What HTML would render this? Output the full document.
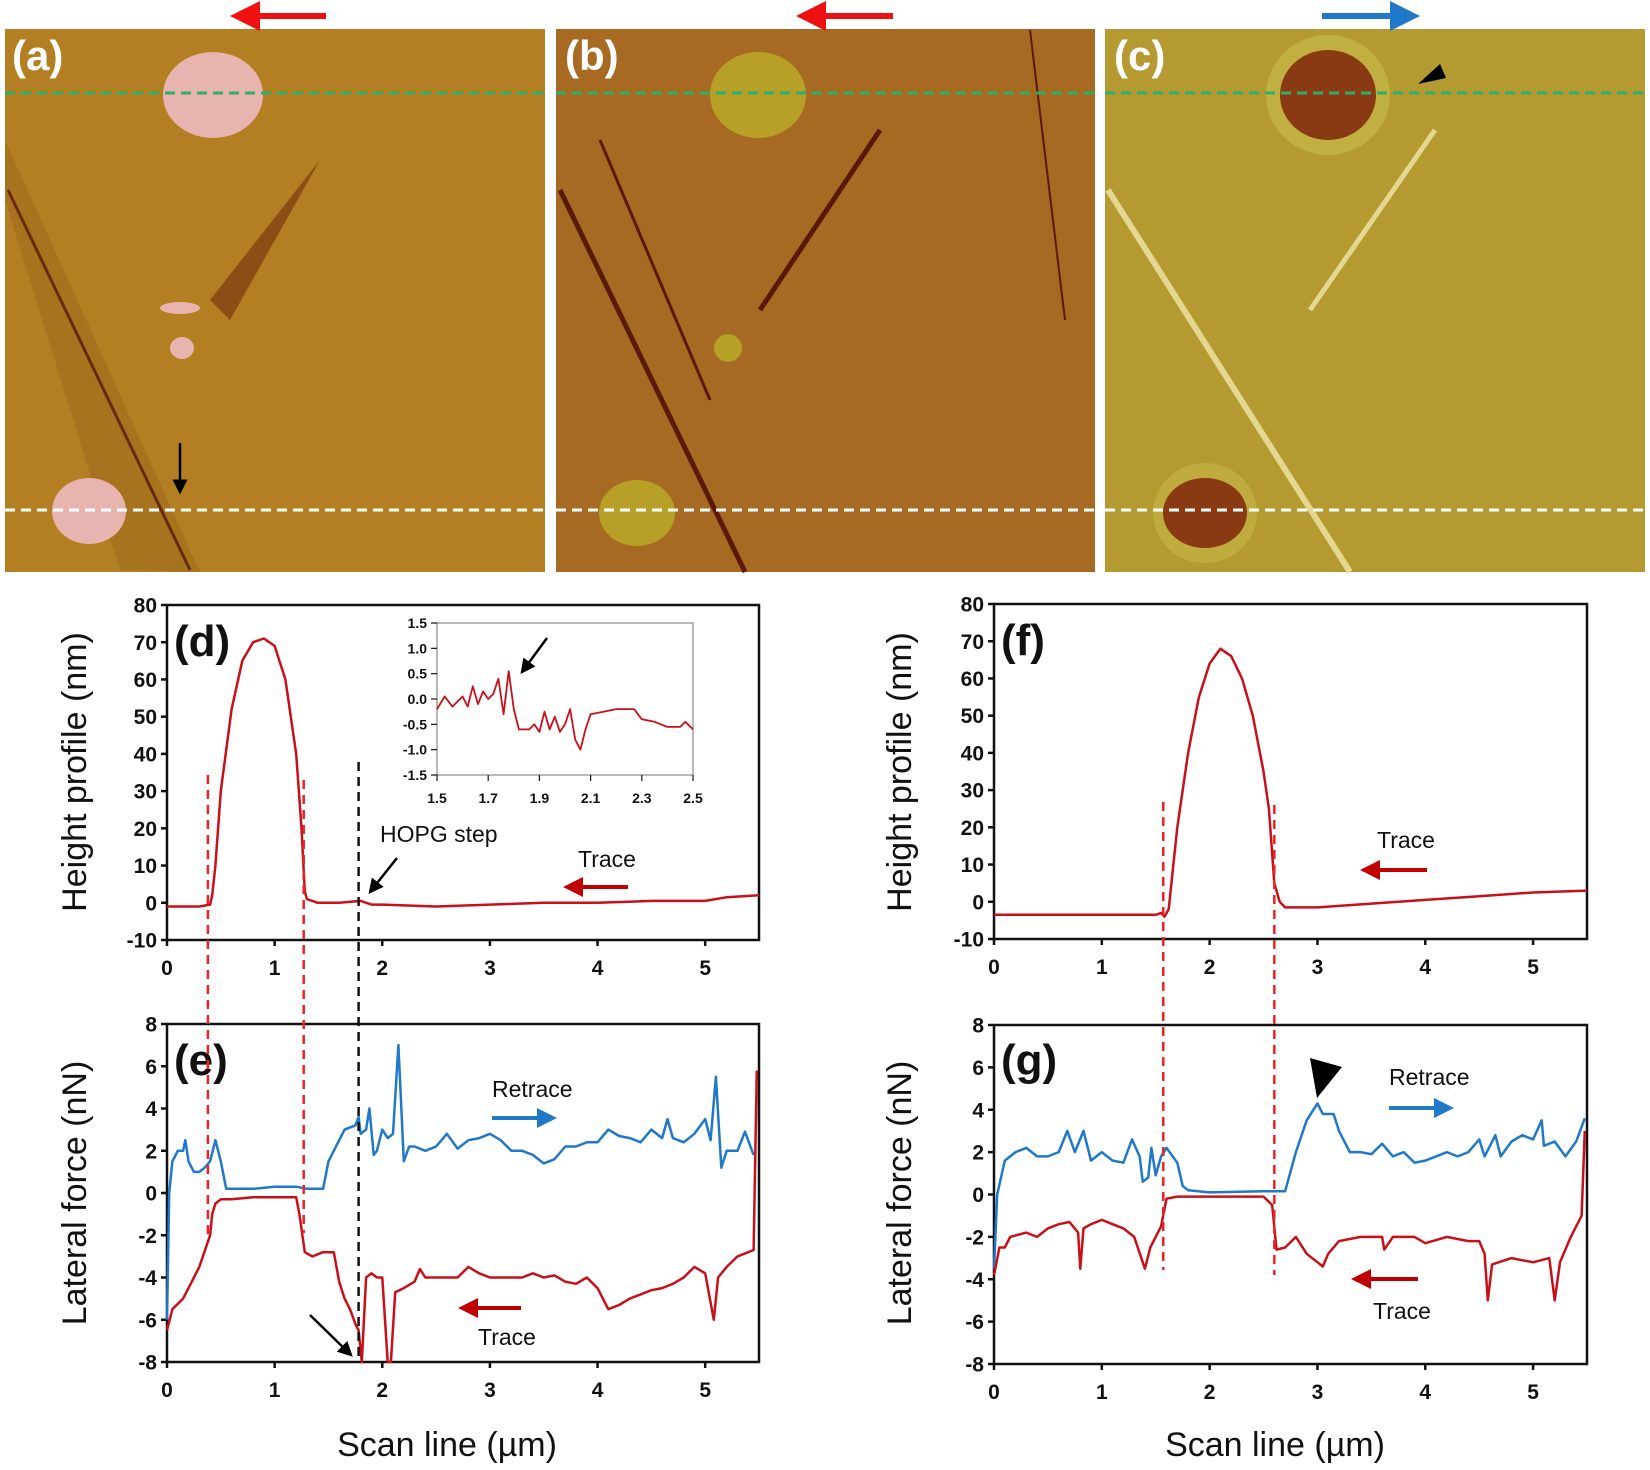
<!DOCTYPE html>
<html><head><meta charset="utf-8"><style>
body{margin:0;background:#fff;width:1650px;height:1470px;overflow:hidden}
svg{display:block}
text{font-family:"Liberation Sans",sans-serif}
.tk{font-size:21px;font-weight:bold;fill:#111}
.at{font-size:34px;fill:#111}
.pl{font-size:44px;font-weight:bold;fill:#111}
.an{font-size:23px;fill:#111}
</style></head><body>
<svg id="fig" width="1650" height="1470">
<defs>
<marker id="ahk" markerWidth="6" markerHeight="6" refX="5" refY="3" orient="auto"><path d="M0,0 L6,3 L0,6 z" fill="#000"/></marker>
<marker id="ahr" markerWidth="5" markerHeight="5" refX="4" refY="2.5" orient="auto"><path d="M0,0 L5,2.5 L0,5 z" fill="#c00000"/></marker>
<marker id="ahrr" markerWidth="5" markerHeight="5" refX="4" refY="2.5" orient="auto"><path d="M0,0 L5,2.5 L0,5 z" fill="#ee1111"/></marker>
<marker id="ahb" markerWidth="5" markerHeight="5" refX="4" refY="2.5" orient="auto"><path d="M0,0 L5,2.5 L0,5 z" fill="#1f78c8"/></marker>
</defs>
<!-- AFM images -->
<g>
<rect x="5" y="29" width="540" height="543" fill="#b37f22"/>
<polygon points="5,200 120,570 200,572 5,140" fill="#a06a1c" opacity="0.6"/>
<polygon points="210,300 320,160 230,320" fill="#7a3a10" opacity="0.7"/>
<line x1="8" y1="190" x2="190" y2="570" stroke="#6a2a0a" stroke-width="3"/>
<ellipse cx="213" cy="95" rx="50" ry="43" fill="#e8b4b0"/>
<ellipse cx="182" cy="348" rx="12" ry="11" fill="#e8b4b0"/>
<ellipse cx="180" cy="308" rx="20" ry="6" fill="#e8b4b0"/>
<ellipse cx="89" cy="511" rx="37" ry="33" fill="#e8b4b0"/>
<text x="12" y="70" style="font-size:42px;font-weight:bold;fill:#fff">(a)</text>
<line x1="180" y1="443" x2="180" y2="492" stroke="#000" stroke-width="2.5" marker-end="url(#ahk)"/>
</g>
<g>
<rect x="556" y="29" width="539" height="543" fill="#a66a22"/>
<line x1="560" y1="190" x2="745" y2="572" stroke="#5a1a05" stroke-width="5"/>
<line x1="600" y1="140" x2="710" y2="400" stroke="#5a1a05" stroke-width="3"/>
<line x1="760" y1="310" x2="880" y2="130" stroke="#5a1a05" stroke-width="5"/>
<line x1="1030" y1="30" x2="1065" y2="320" stroke="#5a1a05" stroke-width="2"/>
<ellipse cx="758" cy="95" rx="48" ry="43" fill="#b8a028"/>
<ellipse cx="728" cy="348" rx="14" ry="14" fill="#b8a028"/>
<ellipse cx="637" cy="513" rx="38" ry="33" fill="#b8a028"/>
<text x="565" y="70" style="font-size:42px;font-weight:bold;fill:#fff">(b)</text>
</g>
<g>
<rect x="1105" y="29" width="540" height="543" fill="#b49a30"/>
<line x1="1108" y1="190" x2="1350" y2="572" stroke="#e4d890" stroke-width="6"/>
<line x1="1310" y1="310" x2="1435" y2="130" stroke="#e4d890" stroke-width="5"/>
<ellipse cx="1328" cy="95" rx="62" ry="60" fill="#c8b848" opacity="0.7"/>
<ellipse cx="1328" cy="95" rx="48" ry="45" fill="#8a3a12"/>
<ellipse cx="1205" cy="513" rx="52" ry="50" fill="#c8b848" opacity="0.6"/>
<ellipse cx="1205" cy="513" rx="42" ry="35" fill="#8a3a12"/>
<text x="1114" y="70" style="font-size:42px;font-weight:bold;fill:#fff">(c)</text>
<polygon points="1418,84 1446,78 1440,64" fill="#000"/>
</g>
<line x1="5" y1="93" x2="545" y2="93" stroke="#2bb06a" stroke-width="3" stroke-dasharray="10,6"/>
<line x1="556" y1="93" x2="1095" y2="93" stroke="#2bb06a" stroke-width="3" stroke-dasharray="10,6"/>
<line x1="1105" y1="93" x2="1645" y2="93" stroke="#2bb06a" stroke-width="3" stroke-dasharray="10,6"/>
<line x1="5" y1="510" x2="545" y2="510" stroke="#fff" stroke-width="3" stroke-dasharray="10,6"/>
<line x1="556" y1="510" x2="1095" y2="510" stroke="#fff" stroke-width="3" stroke-dasharray="10,6"/>
<line x1="1105" y1="510" x2="1645" y2="510" stroke="#fff" stroke-width="3" stroke-dasharray="10,6"/>
<line x1="326" y1="16" x2="236" y2="16" stroke="#ee1111" stroke-width="6" marker-end="url(#ahrr)"/>
<line x1="893" y1="16" x2="802" y2="16" stroke="#ee1111" stroke-width="6" marker-end="url(#ahrr)"/>
<line x1="1322" y1="16" x2="1414" y2="16" stroke="#1f78c8" stroke-width="6" marker-end="url(#ahb)"/>
<g id="charts"></g>
</svg>
<script>
// ---- data ----
const dX=[0,0.1,0.2,0.3,0.4,0.42,0.45,0.5,0.6,0.7,0.8,0.9,1.0,1.1,1.2,1.25,1.28,1.3,1.4,1.6,1.8,1.9,2.0,2.5,3,3.5,4,4.5,5,5.2,5.5];
const dY=[-1,-1,-1,-1,-0.5,2,10,30,52,65,70,71,69,60,40,20,3,1,0,0,0.5,-0.5,-0.5,-1,-0.5,0,0,0.5,0.5,1.5,2];
const insetX=[1.5,1.53,1.56,1.6,1.62,1.64,1.66,1.68,1.7,1.72,1.74,1.76,1.78,1.8,1.82,1.84,1.86,1.88,1.9,1.92,1.94,1.96,1.98,2.0,2.02,2.04,2.06,2.08,2.1,2.15,2.2,2.25,2.27,2.3,2.35,2.4,2.45,2.47,2.5];
const insetY=[-0.2,0.05,-0.15,0.05,-0.15,0.25,-0.1,0.15,0.0,0.1,0.4,-0.3,0.55,-0.2,-0.6,-0.6,-0.6,-0.5,-0.65,-0.25,-0.6,-0.35,-0.65,-0.5,-0.2,-0.8,-1.0,-0.6,-0.3,-0.25,-0.2,-0.2,-0.2,-0.4,-0.45,-0.55,-0.55,-0.45,-0.6];
const eRetX=[0,0.02,0.05,0.1,0.15,0.17,0.2,0.25,0.3,0.35,0.4,0.45,0.5,0.55,0.6,0.8,1.0,1.2,1.3,1.45,1.5,1.55,1.65,1.75,1.78,1.8,1.85,1.88,1.92,1.95,2.0,2.05,2.1,2.15,2.2,2.25,2.3,2.4,2.5,2.6,2.7,2.8,2.9,3.0,3.1,3.2,3.3,3.4,3.5,3.6,3.7,3.8,3.9,4.0,4.1,4.2,4.3,4.4,4.5,4.6,4.65,4.7,4.8,4.9,5.0,5.05,5.1,5.15,5.2,5.3,5.37,5.45];
const eRetY=[-6,0,1.5,2,2,2.5,1.5,1,1,1.2,1.5,2.5,1.5,0.2,0.2,0.2,0.3,0.3,0.2,0.2,1.5,2,3,3.2,3.6,2.8,3,4,1.8,2,3,2.6,2.8,7,1.5,2.2,2.2,2,2.2,2.8,2.1,2.5,2.6,2.8,2.5,2,2,1.8,1.4,1.6,2.2,2.2,2.4,2.4,3,2.7,2.6,2.4,3,2.6,3.5,2.6,2.4,2.8,3.5,2.5,5.5,1.2,2,2,2.9,1.8];
const eTrX=[0,0.05,0.15,0.2,0.3,0.4,0.42,0.45,0.5,0.6,0.8,1.0,1.2,1.23,1.28,1.35,1.45,1.55,1.6,1.65,1.7,1.75,1.78,1.81,1.85,1.9,1.95,2.0,2.05,2.08,2.12,2.2,2.3,2.35,2.4,2.5,2.6,2.7,2.8,2.9,3.0,3.1,3.2,3.3,3.4,3.5,3.6,3.7,3.8,3.9,4.0,4.1,4.2,4.3,4.4,4.5,4.6,4.7,4.8,4.9,5.0,5.08,5.12,5.2,5.3,5.4,5.45,5.48];
const eTrY=[-6.5,-5.5,-5,-4.5,-3.5,-2,-1,-0.5,-0.3,-0.3,-0.2,-0.2,-0.2,-1,-2.8,-3,-2.8,-2.8,-4.2,-5,-5.5,-6.2,-6.5,-8,-4,-3.8,-4,-4,-8,-8,-4.7,-4.5,-4.2,-3.6,-4,-4,-4,-4,-3.5,-3.8,-4,-4,-4,-4,-3.8,-4,-3.9,-4.2,-4.3,-4,-4.5,-5.5,-5.3,-5,-4.8,-4.6,-4.5,-4.3,-4,-3.5,-3.8,-6,-4,-3.5,-3,-2.8,-2.7,5.8];
const fX=[0,0.5,1.0,1.5,1.55,1.58,1.62,1.7,1.8,1.9,2.0,2.1,2.2,2.3,2.4,2.5,2.55,2.6,2.65,2.7,3.0,3.5,4.0,4.5,5.0,5.5];
const fY=[-3.5,-3.5,-3.5,-3.5,-3,-4,-2,20,40,55,64,68,66,60,50,35,25,5,0,-1.5,-1.5,-0.5,0.5,1.5,2.5,3];
const gRetX=[0,0.03,0.1,0.2,0.3,0.4,0.5,0.6,0.68,0.75,0.83,0.9,1.0,1.1,1.2,1.28,1.35,1.38,1.43,1.46,1.5,1.55,1.6,1.7,1.75,1.8,2.0,2.5,2.7,2.8,2.9,3.0,3.05,3.15,3.2,3.3,3.4,3.5,3.6,3.7,3.8,3.9,4.0,4.1,4.2,4.3,4.4,4.5,4.55,4.65,4.7,4.8,4.9,5.0,5.08,5.1,5.2,5.3,5.4,5.48];
const gRetY=[-3.5,0,1.6,2,2.2,1.8,1.8,2,3,2,3,1.6,2,1.6,1.5,2.6,1.8,0.6,0.8,2.2,0.9,1.8,2.2,1.5,0.4,0.2,0.1,0.15,0.15,2,3.5,4.3,3.8,3.8,3,2,2,1.9,2.4,1.8,2,1.5,1.6,1.8,2,1.8,2,2.6,1.8,2.8,1.8,2.5,2.8,2.6,3.5,2.3,2.5,1.8,2.5,3.6];
const gTrX=[0,0.05,0.1,0.15,0.3,0.4,0.5,0.6,0.7,0.78,0.8,0.83,0.9,1.0,1.1,1.2,1.3,1.4,1.45,1.5,1.55,1.6,1.7,2.0,2.5,2.58,2.62,2.7,2.8,2.9,3.0,3.05,3.1,3.2,3.4,3.6,3.62,3.7,3.9,4.0,4.2,4.4,4.5,4.55,4.58,4.62,4.8,5.0,5.15,5.2,5.25,5.35,5.45,5.48];
const gTrY=[-3.8,-2.5,-2.5,-2,-1.8,-2,-1.6,-1.4,-1.3,-1.8,-3.5,-1.6,-1.4,-1.2,-1.4,-1.6,-2,-3.5,-2.5,-2,-1.5,-0.2,-0.1,-0.1,-0.1,-0.5,-2.6,-2.5,-2,-2.8,-3.2,-3.4,-2.8,-2.2,-2,-2,-2.6,-2,-2,-2.3,-2,-2.2,-2.2,-2.8,-5,-3.3,-3,-3.2,-3,-5,-3.2,-2,-1,3];
const xTicks=[0,1,2,3,4,5];
const hTicks=[-10,0,10,20,30,40,50,60,70,80];
const lTicks=[-8,-6,-4,-2,0,2,4,6,8];
const insetXTicks=[1.5,1.7,1.9,2.1,2.3,2.5];
const insetYTicks=[-1.5,-1.0,-0.5,0.0,0.5,1.0,1.5];

const NS='http://www.w3.org/2000/svg';
const root=document.getElementById('charts');
function el(tag,attrs,parent){const e=document.createElementNS(NS,tag);for(const k in attrs)e.setAttribute(k,attrs[k]);(parent||root).appendChild(e);return e;}
function axis(x0,x1,y0,y1,xmin,xmax,ymin,ymax){return {sx:v=>x0+(v-xmin)/(xmax-xmin)*(x1-x0),sy:v=>y1-(v-ymin)/(ymax-ymin)*(y1-y0),x0,x1,y0,y1};}
function frame(a,name,xt,yt,fs,fmt,lw){
  const g=el('g',{});
  
  
  el('rect',{x:a.x0,y:a.y0,width:a.x1-a.x0,height:a.y1-a.y0,fill:'none',stroke:lw<2?'#888':'#111','stroke-width':lw},g);
  xt.forEach(v=>{const x=a.sx(v);el('line',{x1:x,x2:x,y1:a.y1,y2:a.y1+6,stroke:'#111','stroke-width':lw},g);
    const t=el('text',{x:x,y:a.y1+fs+14,'text-anchor':'middle',class:'tk','font-size':fs},g);t.style.fontSize=fs+'px';t.textContent=fmt?v.toFixed(1):v;
    
    });
  yt.forEach(v=>{const y=a.sy(v);el('line',{x1:a.x0-6,x2:a.x0,y1:y,y2:y,stroke:'#111','stroke-width':lw},g);
    const t=el('text',{x:a.x0-10,y:y+fs*0.36,'text-anchor':'end',class:'tk'},g);t.style.fontSize=fs+'px';t.textContent=fmt?v.toFixed(1):v;
    
    });
}
function series(a,xs,ys,color,name,w){
  const d=xs.map((x,i)=>(i?'L':'M')+a.sx(x).toFixed(1)+','+a.sy(ys[i]).toFixed(1)).join('');
  const p=el('path',{d:d,fill:'none',stroke:color,'stroke-width':w||2.5,'stroke-linejoin':'round'});
  
  
}
function text(x,y,s,cls,name,extra){const t=el('text',Object.assign({x:x,y:y,class:cls},extra||{}));t.textContent=s;
  
  return t;}
function arrow(x1,y1,x2,y2,color,mk,w,name){const l=el('line',{x1,y1,x2,y2,stroke:color,'stroke-width':w,'marker-end':'url(#'+mk+')'});
  
  }
function vdash(a,xv,ytop,ybot,color,name){const x=a.sx(xv);const l=el('line',{x1:x,x2:x,y1:ytop,y2:ybot,stroke:color,'stroke-width':2.5,'stroke-dasharray':'9,6'});
  
  }

const red='#c8101a', blue='#1f78c8';
// Panel d
const aD=axis(167,759,605,940,0,5.5,-10,80);
frame(aD,'height-axes-d',xTicks,hTicks,21,false,2.5);
series(aD,dX,dY,red,'height-trace-d');
text(174,656,'(d)','pl','panel-label-d');
text(0,0,'Height profile (nm)','at','y-axis-title-d',{transform:'translate(86,772) rotate(-90)','text-anchor':'middle'});
// inset
const aI=axis(437,693,623,775,1.5,2.5,-1.5,1.5);
frame(aI,'inset-axes',insetXTicks,insetYTicks,14,true,1.2);
series(aI,insetX,insetY,red,'inset-trace',1.8);
arrow(547,638,522,672,'#000','ahk',2.5,'inset-arrow');
text(380,842,'HOPG step','an','hopg-step-label');
arrow(397,858,370,892,'#000','ahk',2.5,'hopg-step-arrow');
text(578,867,'Trace','an','trace-label-d');
arrow(628,887,567,887,'#c00000','ahr',4,'trace-arrow-d');
// Panel e
const aE=axis(167,759,1024,1362,0,5.5,-8,8);
frame(aE,'lateral-axes-e',xTicks,lTicks,21,false,2.5);
series(aE,eRetX,eRetY,blue,'retrace-e');
series(aE,eTrX,eTrY,red,'trace-e');
text(174,1075,'(e)','pl','panel-label-e');
text(0,0,'Lateral force (nN)','at','y-axis-title-e',{transform:'translate(86,1193) rotate(-90)','text-anchor':'middle'});
text(492,1097,'Retrace','an','retrace-label-e');
arrow(492,1118,553,1118,blue,'ahb',4,'retrace-arrow-e');
text(478,1345,'Trace','an','trace-label-e');
arrow(521,1308,462,1308,'#c00000','ahr',4,'trace-arrow-e');
arrow(310,1315,351,1355,'#000','ahk',2.5,'step-arrow-e');
text(447,1456,'Scan line (µm)','at','x-axis-title-left',{'text-anchor':'middle'});
// dashes d/e
vdash(aD,0.38,775,1240,'#ee2222','edge-dash-left-de');
vdash(aD,1.27,780,1233,'#ee2222','edge-dash-right-de');
vdash(aD,1.78,762,1362,'#111','step-dash-de');
// Panel f
const aF=axis(994,1587,604,939,0,5.5,-10,80);
frame(aF,'height-axes-f',xTicks,hTicks,21,false,2.5);
series(aF,fX,fY,red,'height-trace-f');
text(1001,655,'(f)','pl','panel-label-f');
text(0,0,'Height profile (nm)','at','y-axis-title-f',{transform:'translate(911,772) rotate(-90)','text-anchor':'middle'});
text(1377,848,'Trace','an','trace-label-f');
arrow(1427,870,1364,870,'#c00000','ahr',4,'trace-arrow-f');
// Panel g
const aG=axis(994,1587,1025,1364,0,5.5,-8,8);
frame(aG,'lateral-axes-g',xTicks,lTicks,21,false,2.5);
series(aG,gRetX,gRetY,blue,'retrace-g');
series(aG,gTrX,gTrY,red,'trace-g');
text(1001,1075,'(g)','pl','panel-label-g');
text(0,0,'Lateral force (nN)','at','y-axis-title-g',{transform:'translate(911,1193) rotate(-90)','text-anchor':'middle'});
text(1389,1085,'Retrace','an','retrace-label-g');
arrow(1389,1108,1450,1108,blue,'ahb',4,'retrace-arrow-g');
text(1373,1319,'Trace','an','trace-label-g');
arrow(1418,1279,1355,1279,'#c00000','ahr',4,'trace-arrow-g');
const ah=el('polygon',{points:'1317,1098 1342,1067 1310,1058'});
ah.setAttribute('fill','#000');


text(1275,1456,'Scan line (µm)','at','x-axis-title-right',{'text-anchor':'middle'});
vdash(aF,1.57,802,1270,'#ee2222','edge-dash-left-fg');
vdash(aF,2.6,805,1275,'#ee2222','edge-dash-right-fg');
</script>
</body></html>
